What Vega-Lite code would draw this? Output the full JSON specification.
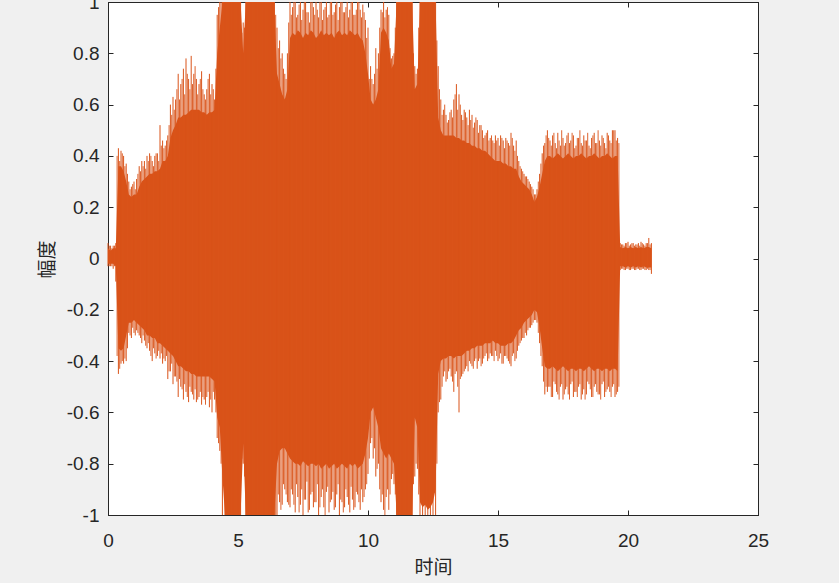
{
  "$schema": "https://vega.github.io/schema/vega-lite/v6.json",
  "width": 650,
  "height": 513,
  "autosize": {"type": "none"},
  "padding": {"left": 108, "top": 2, "right": 81, "bottom": 68},
  "background": "#f0f0f0",
  "config": {
    "view": {"fill": "white", "stroke": "#262626", "strokeWidth": 1},
    "axis": {
      "domainColor": "#262626",
      "tickColor": "#262626",
      "tickSize": -5,
      "grid": false,
      "labelFlush": false,
      "labelOverlap": false,
      "labelFont": "Liberation Sans",
      "labelFontSize": 19,
      "labelColor": "#262626",
      "titleFont": "Noto Sans CJK SC",
      "titleFontSize": 19,
      "titleFontWeight": "normal",
      "titleColor": "#262626"
    }
  },
  "datasets": {
    "wave": [
      {"t":0.0,"top":0.04,"bot":-0.02,"peak":0.06,"trough":-0.03},
      {"t":0.1,"top":0.03,"bot":-0.02,"peak":0.05,"trough":-0.03},
      {"t":0.2,"top":0.04,"bot":-0.02,"peak":0.05,"trough":-0.04},
      {"t":0.3,"top":0.04,"bot":-0.03,"peak":0.06,"trough":-0.09},
      {"t":0.4,"top":0.36,"bot":-0.35,"peak":0.43,"trough":-0.45},
      {"t":0.5,"top":0.36,"bot":-0.36,"peak":0.42,"trough":-0.41},
      {"t":0.6,"top":0.34,"bot":-0.35,"peak":0.40,"trough":-0.41},
      {"t":0.7,"top":0.30,"bot":-0.30,"peak":0.37,"trough":-0.40},
      {"t":0.8,"top":0.25,"bot":-0.25,"peak":0.30,"trough":-0.29},
      {"t":0.9,"top":0.24,"bot":-0.25,"peak":0.28,"trough":-0.31},
      {"t":1.0,"top":0.25,"bot":-0.24,"peak":0.30,"trough":-0.29},
      {"t":1.1,"top":0.25,"bot":-0.25,"peak":0.31,"trough":-0.28},
      {"t":1.2,"top":0.28,"bot":-0.26,"peak":0.36,"trough":-0.30},
      {"t":1.3,"top":0.30,"bot":-0.27,"peak":0.38,"trough":-0.33},
      {"t":1.4,"top":0.31,"bot":-0.28,"peak":0.38,"trough":-0.32},
      {"t":1.5,"top":0.32,"bot":-0.30,"peak":0.40,"trough":-0.35},
      {"t":1.6,"top":0.33,"bot":-0.30,"peak":0.41,"trough":-0.36},
      {"t":1.7,"top":0.33,"bot":-0.31,"peak":0.38,"trough":-0.40},
      {"t":1.8,"top":0.34,"bot":-0.31,"peak":0.40,"trough":-0.37},
      {"t":1.9,"top":0.34,"bot":-0.33,"peak":0.41,"trough":-0.38},
      {"t":2.0,"top":0.35,"bot":-0.33,"peak":0.52,"trough":-0.39},
      {"t":2.1,"top":0.38,"bot":-0.34,"peak":0.46,"trough":-0.41},
      {"t":2.2,"top":0.38,"bot":-0.35,"peak":0.44,"trough":-0.40},
      {"t":2.3,"top":0.40,"bot":-0.36,"peak":0.48,"trough":-0.47},
      {"t":2.4,"top":0.47,"bot":-0.37,"peak":0.60,"trough":-0.44},
      {"t":2.5,"top":0.50,"bot":-0.38,"peak":0.63,"trough":-0.49},
      {"t":2.6,"top":0.52,"bot":-0.40,"peak":0.62,"trough":-0.46},
      {"t":2.7,"top":0.55,"bot":-0.42,"peak":0.72,"trough":-0.54},
      {"t":2.8,"top":0.55,"bot":-0.42,"peak":0.68,"trough":-0.50},
      {"t":2.9,"top":0.56,"bot":-0.43,"peak":0.74,"trough":-0.55},
      {"t":3.0,"top":0.56,"bot":-0.44,"peak":0.78,"trough":-0.52},
      {"t":3.1,"top":0.57,"bot":-0.44,"peak":0.70,"trough":-0.56},
      {"t":3.2,"top":0.58,"bot":-0.45,"peak":0.79,"trough":-0.52},
      {"t":3.3,"top":0.58,"bot":-0.45,"peak":0.72,"trough":-0.55},
      {"t":3.4,"top":0.58,"bot":-0.46,"peak":0.70,"trough":-0.56},
      {"t":3.5,"top":0.58,"bot":-0.46,"peak":0.68,"trough":-0.54},
      {"t":3.6,"top":0.57,"bot":-0.46,"peak":0.73,"trough":-0.57},
      {"t":3.7,"top":0.57,"bot":-0.46,"peak":0.64,"trough":-0.55},
      {"t":3.8,"top":0.56,"bot":-0.46,"peak":0.66,"trough":-0.54},
      {"t":3.9,"top":0.57,"bot":-0.46,"peak":0.72,"trough":-0.58},
      {"t":4.0,"top":0.57,"bot":-0.47,"peak":0.68,"trough":-0.60},
      {"t":4.1,"top":0.58,"bot":-0.48,"peak":0.62,"trough":-0.55},
      {"t":4.2,"top":0.80,"bot":-0.62,"peak":0.95,"trough":-0.70},
      {"t":4.3,"top":0.90,"bot":-0.66,"peak":1,"trough":-0.75},
      {"t":4.4,"top":1,"bot":-0.85,"peak":1,"trough":-1},
      {"t":4.5,"top":1,"bot":-1,"peak":1,"trough":-1},
      {"t":4.6,"top":1,"bot":-1,"peak":1,"trough":-1},
      {"t":4.7,"top":1,"bot":-1,"peak":1,"trough":-1},
      {"t":4.8,"top":1,"bot":-1,"peak":1,"trough":-1},
      {"t":4.9,"top":1,"bot":-1,"peak":1,"trough":-1},
      {"t":5.0,"top":1,"bot":-1,"peak":1,"trough":-1},
      {"t":5.1,"top":1,"bot":-1,"peak":1,"trough":-1},
      {"t":5.2,"top":0.80,"bot":-0.72,"peak":0.92,"trough":-0.80},
      {"t":5.3,"top":1,"bot":-1,"peak":1,"trough":-1},
      {"t":5.4,"top":1,"bot":-1,"peak":1,"trough":-1},
      {"t":5.5,"top":1,"bot":-1,"peak":1,"trough":-1},
      {"t":5.6,"top":1,"bot":-1,"peak":1,"trough":-1},
      {"t":5.7,"top":1,"bot":-1,"peak":1,"trough":-1},
      {"t":5.8,"top":1,"bot":-1,"peak":1,"trough":-1},
      {"t":5.9,"top":1,"bot":-1,"peak":1,"trough":-1},
      {"t":6.0,"top":1,"bot":-1,"peak":1,"trough":-1},
      {"t":6.1,"top":1,"bot":-1,"peak":1,"trough":-1},
      {"t":6.2,"top":1,"bot":-1,"peak":1,"trough":-1},
      {"t":6.3,"top":1,"bot":-1,"peak":1,"trough":-1},
      {"t":6.4,"top":1,"bot":-1,"peak":1,"trough":-1},
      {"t":6.5,"top":0.72,"bot":-0.80,"peak":0.90,"trough":-1},
      {"t":6.6,"top":0.68,"bot":-0.75,"peak":0.85,"trough":-0.95},
      {"t":6.7,"top":0.64,"bot":-0.74,"peak":0.80,"trough":-0.96},
      {"t":6.8,"top":0.62,"bot":-0.74,"peak":0.72,"trough":-0.90},
      {"t":6.9,"top":0.66,"bot":-0.76,"peak":0.80,"trough":-0.95},
      {"t":7.0,"top":0.86,"bot":-0.78,"peak":1,"trough":-0.97},
      {"t":7.1,"top":0.88,"bot":-0.79,"peak":0.98,"trough":-0.92},
      {"t":7.2,"top":0.87,"bot":-0.80,"peak":1,"trough":-0.99},
      {"t":7.3,"top":0.89,"bot":-0.80,"peak":0.95,"trough":-0.93},
      {"t":7.4,"top":0.88,"bot":-0.81,"peak":1,"trough":-0.96},
      {"t":7.5,"top":0.86,"bot":-0.79,"peak":0.97,"trough":-1},
      {"t":7.6,"top":0.88,"bot":-0.80,"peak":1,"trough":-0.94},
      {"t":7.7,"top":0.87,"bot":-0.81,"peak":0.96,"trough":-0.99},
      {"t":7.8,"top":0.89,"bot":-0.80,"peak":1,"trough":-0.92},
      {"t":7.9,"top":0.88,"bot":-0.80,"peak":0.98,"trough":-0.97},
      {"t":8.0,"top":0.86,"bot":-0.81,"peak":1,"trough":-0.95},
      {"t":8.1,"top":0.87,"bot":-0.80,"peak":0.94,"trough":-1},
      {"t":8.2,"top":0.89,"bot":-0.82,"peak":1,"trough":-0.93},
      {"t":8.3,"top":0.87,"bot":-0.81,"peak":0.97,"trough":-0.97},
      {"t":8.4,"top":0.88,"bot":-0.80,"peak":1,"trough":-0.91},
      {"t":8.5,"top":0.87,"bot":-0.82,"peak":0.95,"trough":-0.99},
      {"t":8.6,"top":0.88,"bot":-0.81,"peak":1,"trough":-0.94},
      {"t":8.7,"top":0.86,"bot":-0.80,"peak":0.96,"trough":-0.98},
      {"t":8.8,"top":0.88,"bot":-0.82,"peak":1,"trough":-0.92},
      {"t":8.9,"top":0.89,"bot":-0.81,"peak":0.98,"trough":-1},
      {"t":9.0,"top":0.87,"bot":-0.80,"peak":1,"trough":-0.95},
      {"t":9.1,"top":0.88,"bot":-0.81,"peak":0.96,"trough":-0.97},
      {"t":9.2,"top":0.87,"bot":-0.82,"peak":1,"trough":-0.93},
      {"t":9.3,"top":0.89,"bot":-0.80,"peak":0.97,"trough":-0.99},
      {"t":9.4,"top":0.88,"bot":-0.81,"peak":1,"trough":-0.94},
      {"t":9.5,"top":0.87,"bot":-0.80,"peak":0.95,"trough":-0.97},
      {"t":9.6,"top":0.88,"bot":-0.82,"peak":1,"trough":-0.92},
      {"t":9.7,"top":0.86,"bot":-0.81,"peak":0.97,"trough":-0.98},
      {"t":9.8,"top":0.85,"bot":-0.80,"peak":0.99,"trough":-0.95},
      {"t":9.9,"top":0.80,"bot":-0.76,"peak":0.93,"trough":-0.90},
      {"t":10.0,"top":0.72,"bot":-0.70,"peak":0.90,"trough":-0.84},
      {"t":10.1,"top":0.62,"bot":-0.60,"peak":0.75,"trough":-0.72},
      {"t":10.2,"top":0.60,"bot":-0.58,"peak":0.68,"trough":-0.78},
      {"t":10.3,"top":0.62,"bot":-0.62,"peak":0.82,"trough":-0.85},
      {"t":10.4,"top":0.66,"bot":-0.66,"peak":0.80,"trough":-0.80},
      {"t":10.5,"top":0.88,"bot":-0.74,"peak":0.97,"trough":-0.95},
      {"t":10.6,"top":0.90,"bot":-0.76,"peak":1,"trough":-0.98},
      {"t":10.7,"top":0.88,"bot":-0.78,"peak":0.97,"trough":-0.93},
      {"t":10.8,"top":0.85,"bot":-0.76,"peak":0.95,"trough":-0.98},
      {"t":10.9,"top":0.74,"bot":-0.78,"peak":0.78,"trough":-0.86},
      {"t":11.0,"top":0.76,"bot":-0.80,"peak":0.80,"trough":-0.88},
      {"t":11.1,"top":1,"bot":-1,"peak":1,"trough":-1},
      {"t":11.2,"top":1,"bot":-1,"peak":1,"trough":-1},
      {"t":11.3,"top":1,"bot":-1,"peak":1,"trough":-1},
      {"t":11.4,"top":1,"bot":-1,"peak":1,"trough":-1},
      {"t":11.5,"top":1,"bot":-1,"peak":1,"trough":-1},
      {"t":11.6,"top":1,"bot":-1,"peak":1,"trough":-1},
      {"t":11.7,"top":1,"bot":-1,"peak":1,"trough":-1},
      {"t":11.8,"top":0.66,"bot":-0.62,"peak":0.75,"trough":-0.85},
      {"t":11.9,"top":0.68,"bot":-0.66,"peak":0.74,"trough":-0.82},
      {"t":12.0,"top":1,"bot":-0.95,"peak":1,"trough":-1},
      {"t":12.1,"top":1,"bot":-0.97,"peak":1,"trough":-1},
      {"t":12.2,"top":1,"bot":-0.96,"peak":1,"trough":-1},
      {"t":12.3,"top":1,"bot":-0.98,"peak":1,"trough":-1},
      {"t":12.4,"top":1,"bot":-0.97,"peak":1,"trough":-1},
      {"t":12.5,"top":1,"bot":-0.95,"peak":1,"trough":-1},
      {"t":12.6,"top":1,"bot":-0.90,"peak":1,"trough":-1},
      {"t":12.7,"top":0.55,"bot":-0.45,"peak":0.75,"trough":-0.60},
      {"t":12.8,"top":0.50,"bot":-0.40,"peak":0.62,"trough":-0.55},
      {"t":12.9,"top":0.48,"bot":-0.39,"peak":0.58,"trough":-0.46},
      {"t":13.0,"top":0.48,"bot":-0.39,"peak":0.56,"trough":-0.48},
      {"t":13.1,"top":0.48,"bot":-0.38,"peak":0.54,"trough":-0.44},
      {"t":13.2,"top":0.48,"bot":-0.38,"peak":0.58,"trough":-0.46},
      {"t":13.3,"top":0.48,"bot":-0.39,"peak":0.62,"trough":-0.52},
      {"t":13.4,"top":0.47,"bot":-0.38,"peak":0.68,"trough":-0.44},
      {"t":13.5,"top":0.47,"bot":-0.38,"peak":0.64,"trough":-0.60},
      {"t":13.6,"top":0.46,"bot":-0.38,"peak":0.56,"trough":-0.46},
      {"t":13.7,"top":0.46,"bot":-0.37,"peak":0.58,"trough":-0.44},
      {"t":13.8,"top":0.45,"bot":-0.36,"peak":0.55,"trough":-0.42},
      {"t":13.9,"top":0.45,"bot":-0.36,"peak":0.58,"trough":-0.40},
      {"t":14.0,"top":0.44,"bot":-0.35,"peak":0.56,"trough":-0.42},
      {"t":14.1,"top":0.44,"bot":-0.35,"peak":0.53,"trough":-0.40},
      {"t":14.2,"top":0.43,"bot":-0.34,"peak":0.54,"trough":-0.43},
      {"t":14.3,"top":0.43,"bot":-0.34,"peak":0.52,"trough":-0.39},
      {"t":14.4,"top":0.42,"bot":-0.34,"peak":0.50,"trough":-0.41},
      {"t":14.5,"top":0.42,"bot":-0.33,"peak":0.48,"trough":-0.38},
      {"t":14.6,"top":0.41,"bot":-0.33,"peak":0.50,"trough":-0.40},
      {"t":14.7,"top":0.40,"bot":-0.33,"peak":0.47,"trough":-0.37},
      {"t":14.8,"top":0.39,"bot":-0.32,"peak":0.46,"trough":-0.38},
      {"t":14.9,"top":0.38,"bot":-0.33,"peak":0.48,"trough":-0.36},
      {"t":15.0,"top":0.38,"bot":-0.33,"peak":0.47,"trough":-0.40},
      {"t":15.1,"top":0.38,"bot":-0.34,"peak":0.48,"trough":-0.37},
      {"t":15.2,"top":0.37,"bot":-0.34,"peak":0.46,"trough":-0.41},
      {"t":15.3,"top":0.37,"bot":-0.34,"peak":0.47,"trough":-0.38},
      {"t":15.4,"top":0.36,"bot":-0.33,"peak":0.45,"trough":-0.40},
      {"t":15.5,"top":0.36,"bot":-0.33,"peak":0.49,"trough":-0.42},
      {"t":15.6,"top":0.35,"bot":-0.32,"peak":0.44,"trough":-0.37},
      {"t":15.7,"top":0.35,"bot":-0.30,"peak":0.46,"trough":-0.39},
      {"t":15.8,"top":0.32,"bot":-0.28,"peak":0.38,"trough":-0.34},
      {"t":15.9,"top":0.30,"bot":-0.27,"peak":0.35,"trough":-0.32},
      {"t":16.0,"top":0.29,"bot":-0.25,"peak":0.33,"trough":-0.31},
      {"t":16.1,"top":0.28,"bot":-0.24,"peak":0.32,"trough":-0.30},
      {"t":16.2,"top":0.27,"bot":-0.23,"peak":0.30,"trough":-0.27},
      {"t":16.3,"top":0.25,"bot":-0.22,"peak":0.28,"trough":-0.26},
      {"t":16.4,"top":0.22,"bot":-0.20,"peak":0.25,"trough":-0.24},
      {"t":16.5,"top":0.24,"bot":-0.21,"peak":0.27,"trough":-0.25},
      {"t":16.6,"top":0.28,"bot":-0.27,"peak":0.33,"trough":-0.33},
      {"t":16.7,"top":0.33,"bot":-0.35,"peak":0.41,"trough":-0.42},
      {"t":16.8,"top":0.38,"bot":-0.42,"peak":0.45,"trough":-0.53},
      {"t":16.9,"top":0.40,"bot":-0.43,"peak":0.50,"trough":-0.52},
      {"t":17.0,"top":0.40,"bot":-0.43,"peak":0.46,"trough":-0.50},
      {"t":17.1,"top":0.39,"bot":-0.42,"peak":0.48,"trough":-0.54},
      {"t":17.2,"top":0.40,"bot":-0.43,"peak":0.45,"trough":-0.49},
      {"t":17.3,"top":0.41,"bot":-0.44,"peak":0.49,"trough":-0.53},
      {"t":17.4,"top":0.40,"bot":-0.43,"peak":0.44,"trough":-0.50},
      {"t":17.5,"top":0.39,"bot":-0.42,"peak":0.47,"trough":-0.55},
      {"t":17.6,"top":0.40,"bot":-0.43,"peak":0.45,"trough":-0.51},
      {"t":17.7,"top":0.41,"bot":-0.44,"peak":0.49,"trough":-0.53},
      {"t":17.8,"top":0.40,"bot":-0.43,"peak":0.46,"trough":-0.49},
      {"t":17.9,"top":0.39,"bot":-0.43,"peak":0.48,"trough":-0.54},
      {"t":18.0,"top":0.40,"bot":-0.44,"peak":0.44,"trough":-0.52},
      {"t":18.1,"top":0.40,"bot":-0.43,"peak":0.47,"trough":-0.50},
      {"t":18.2,"top":0.41,"bot":-0.43,"peak":0.45,"trough":-0.55},
      {"t":18.3,"top":0.40,"bot":-0.44,"peak":0.48,"trough":-0.51},
      {"t":18.4,"top":0.39,"bot":-0.43,"peak":0.46,"trough":-0.53},
      {"t":18.5,"top":0.40,"bot":-0.42,"peak":0.44,"trough":-0.49},
      {"t":18.6,"top":0.40,"bot":-0.43,"peak":0.47,"trough":-0.54},
      {"t":18.7,"top":0.41,"bot":-0.44,"peak":0.49,"trough":-0.50},
      {"t":18.8,"top":0.40,"bot":-0.43,"peak":0.45,"trough":-0.52},
      {"t":18.9,"top":0.39,"bot":-0.43,"peak":0.46,"trough":-0.53},
      {"t":19.0,"top":0.40,"bot":-0.44,"peak":0.48,"trough":-0.49},
      {"t":19.1,"top":0.40,"bot":-0.43,"peak":0.45,"trough":-0.54},
      {"t":19.2,"top":0.41,"bot":-0.43,"peak":0.49,"trough":-0.51},
      {"t":19.3,"top":0.40,"bot":-0.44,"peak":0.46,"trough":-0.52},
      {"t":19.4,"top":0.39,"bot":-0.43,"peak":0.50,"trough":-0.50},
      {"t":19.5,"top":0.40,"bot":-0.43,"peak":0.50,"trough":-0.54},
      {"t":19.6,"top":0.40,"bot":-0.44,"peak":0.47,"trough":-0.52},
      {"t":19.7,"top":0.045,"bot":-0.03,"peak":0.06,"trough":-0.045},
      {"t":19.8,"top":0.04,"bot":-0.03,"peak":0.055,"trough":-0.04},
      {"t":19.9,"top":0.045,"bot":-0.035,"peak":0.06,"trough":-0.045},
      {"t":20.0,"top":0.04,"bot":-0.03,"peak":0.065,"trough":-0.04},
      {"t":20.1,"top":0.045,"bot":-0.035,"peak":0.055,"trough":-0.045},
      {"t":20.2,"top":0.04,"bot":-0.03,"peak":0.06,"trough":-0.04},
      {"t":20.3,"top":0.045,"bot":-0.035,"peak":0.055,"trough":-0.045},
      {"t":20.4,"top":0.04,"bot":-0.03,"peak":0.06,"trough":-0.04},
      {"t":20.5,"top":0.045,"bot":-0.035,"peak":0.065,"trough":-0.045},
      {"t":20.6,"top":0.04,"bot":-0.03,"peak":0.055,"trough":-0.04},
      {"t":20.7,"top":0.045,"bot":-0.035,"peak":0.06,"trough":-0.045},
      {"t":20.8,"top":0.045,"bot":-0.035,"peak":0.08,"trough":-0.045},
      {"t":20.9,"top":0.04,"bot":-0.035,"peak":0.06,"trough":-0.06}
    ],
    "spikes": [
      {"t":0.05,"peak":0.05,"trough":-0.03},{"t":0.15,"peak":0.04,"trough":-0.03},{"t":0.25,"peak":0.05,"trough":-0.03},
      {"t":0.35,"peak":0.40,"trough":-0.38},{"t":0.45,"peak":0.38,"trough":-0.43},{"t":0.55,"peak":0.41,"trough":-0.40},
      {"t":0.65,"peak":0.36,"trough":-0.39},{"t":0.75,"peak":0.33,"trough":-0.35},{"t":0.85,"peak":0.27,"trough":-0.30},
      {"t":0.95,"peak":0.29,"trough":-0.27},{"t":1.05,"peak":0.27,"trough":-0.30},{"t":1.15,"peak":0.33,"trough":-0.29},
      {"t":1.25,"peak":0.34,"trough":-0.31},{"t":1.35,"peak":0.36,"trough":-0.30},{"t":1.45,"peak":0.35,"trough":-0.34},
      {"t":1.55,"peak":0.38,"trough":-0.33},{"t":1.65,"peak":0.40,"trough":-0.38},{"t":1.75,"peak":0.36,"trough":-0.35},
      {"t":1.85,"peak":0.41,"trough":-0.39},{"t":1.95,"peak":0.38,"trough":-0.36},{"t":2.05,"peak":0.44,"trough":-0.37},
      {"t":2.15,"peak":0.43,"trough":-0.39},{"t":2.25,"peak":0.46,"trough":-0.38},{"t":2.35,"peak":0.52,"trough":-0.44},
      {"t":2.45,"peak":0.56,"trough":-0.41},{"t":2.55,"peak":0.58,"trough":-0.46},{"t":2.65,"peak":0.66,"trough":-0.48},
      {"t":2.75,"peak":0.62,"trough":-0.47},{"t":2.85,"peak":0.70,"trough":-0.51},{"t":2.95,"peak":0.64,"trough":-0.49},
      {"t":3.05,"peak":0.72,"trough":-0.54},{"t":3.15,"peak":0.66,"trough":-0.50},{"t":3.25,"peak":0.68,"trough":-0.53},
      {"t":3.35,"peak":0.75,"trough":-0.51},{"t":3.45,"peak":0.64,"trough":-0.55},{"t":3.55,"peak":0.70,"trough":-0.52},
      {"t":3.65,"peak":0.66,"trough":-0.54},{"t":3.75,"peak":0.62,"trough":-0.57},{"t":3.85,"peak":0.70,"trough":-0.52},
      {"t":3.95,"peak":0.64,"trough":-0.55},{"t":4.05,"peak":0.66,"trough":-0.52},{"t":4.15,"peak":0.74,"trough":-0.60},
      {"t":4.25,"peak":0.98,"trough":-0.72},{"t":4.35,"peak":1,"trough":-0.80},
      {"t":5.15,"peak":0.88,"trough":-0.78},{"t":5.25,"peak":0.90,"trough":-0.85},
      {"t":6.45,"peak":0.95,"trough":-1},{"t":6.55,"peak":0.82,"trough":-0.92},{"t":6.65,"peak":0.78,"trough":-0.98},
      {"t":6.75,"peak":0.74,"trough":-0.88},{"t":6.85,"peak":0.70,"trough":-0.92},{"t":6.95,"peak":0.92,"trough":-0.96},
      {"t":7.05,"peak":0.95,"trough":-0.90},{"t":7.15,"peak":1,"trough":-0.96},{"t":7.25,"peak":0.94,"trough":-0.88},
      {"t":7.35,"peak":0.99,"trough":-0.99},{"t":7.45,"peak":0.93,"trough":-0.90},{"t":7.55,"peak":1,"trough":-0.94},
      {"t":7.65,"peak":0.96,"trough":-0.87},{"t":7.75,"peak":0.92,"trough":-0.98},{"t":7.85,"peak":1,"trough":-0.91},
      {"t":7.95,"peak":0.95,"trough":-0.95},{"t":8.05,"peak":0.97,"trough":-0.88},{"t":8.15,"peak":1,"trough":-0.97},
      {"t":8.25,"peak":0.93,"trough":-0.90},{"t":8.35,"peak":0.98,"trough":-1},{"t":8.45,"peak":0.94,"trough":-0.89},
      {"t":8.55,"peak":1,"trough":-0.95},{"t":8.65,"peak":0.95,"trough":-0.91},{"t":8.75,"peak":0.99,"trough":-0.97},
      {"t":8.85,"peak":0.93,"trough":-0.88},{"t":8.95,"peak":1,"trough":-0.94},{"t":9.05,"peak":0.96,"trough":-0.99},
      {"t":9.15,"peak":0.98,"trough":-0.90},{"t":9.25,"peak":0.94,"trough":-0.96},{"t":9.35,"peak":1,"trough":-0.89},
      {"t":9.45,"peak":0.95,"trough":-0.98},{"t":9.55,"peak":0.97,"trough":-0.91},{"t":9.65,"peak":1,"trough":-0.95},
      {"t":9.75,"peak":0.94,"trough":-0.90},{"t":9.85,"peak":0.96,"trough":-0.93},{"t":9.95,"peak":0.86,"trough":-0.88},
      {"t":10.05,"peak":0.70,"trough":-0.78},{"t":10.15,"peak":0.70,"trough":-0.70},{"t":10.25,"peak":0.72,"trough":-0.74},
      {"t":10.35,"peak":0.74,"trough":-0.82},{"t":10.45,"peak":0.90,"trough":-0.90},{"t":10.55,"peak":0.96,"trough":-0.92},
      {"t":10.65,"peak":0.94,"trough":-1},{"t":10.75,"peak":0.98,"trough":-0.90},{"t":10.85,"peak":0.82,"trough":-0.92},
      {"t":10.95,"peak":0.79,"trough":-0.84},{"t":11.05,"peak":0.90,"trough":-0.92},
      {"t":11.75,"peak":0.80,"trough":-0.88},{"t":11.85,"peak":0.72,"trough":-0.80},{"t":11.95,"peak":0.90,"trough":-0.92},
      {"t":12.65,"peak":0.85,"trough":-0.80},{"t":12.75,"peak":0.66,"trough":-0.56},{"t":12.85,"peak":0.56,"trough":-0.50},
      {"t":12.95,"peak":0.60,"trough":-0.44},{"t":13.05,"peak":0.53,"trough":-0.47},{"t":13.15,"peak":0.57,"trough":-0.43},
      {"t":13.25,"peak":0.55,"trough":-0.48},{"t":13.35,"peak":0.64,"trough":-0.45},{"t":13.45,"peak":0.58,"trough":-0.50},
      {"t":13.55,"peak":0.60,"trough":-0.47},{"t":13.65,"peak":0.54,"trough":-0.45},{"t":13.75,"peak":0.57,"trough":-0.43},
      {"t":13.85,"peak":0.52,"trough":-0.44},{"t":13.95,"peak":0.54,"trough":-0.41},{"t":14.05,"peak":0.51,"trough":-0.43},
      {"t":14.15,"peak":0.55,"trough":-0.39},{"t":14.25,"peak":0.49,"trough":-0.40},{"t":14.35,"peak":0.52,"trough":-0.42},
      {"t":14.45,"peak":0.47,"trough":-0.39},{"t":14.55,"peak":0.49,"trough":-0.37},{"t":14.65,"peak":0.46,"trough":-0.39},
      {"t":14.75,"peak":0.48,"trough":-0.38},{"t":14.85,"peak":0.45,"trough":-0.40},{"t":14.95,"peak":0.46,"trough":-0.38},
      {"t":15.05,"peak":0.44,"trough":-0.39},{"t":15.15,"peak":0.47,"trough":-0.41},{"t":15.25,"peak":0.43,"trough":-0.38},
      {"t":15.35,"peak":0.46,"trough":-0.39},{"t":15.45,"peak":0.44,"trough":-0.41},{"t":15.55,"peak":0.47,"trough":-0.38},
      {"t":15.65,"peak":0.42,"trough":-0.40},{"t":15.75,"peak":0.40,"trough":-0.36},{"t":15.85,"peak":0.36,"trough":-0.33},
      {"t":15.95,"peak":0.34,"trough":-0.31},{"t":16.05,"peak":0.32,"trough":-0.29},{"t":16.15,"peak":0.31,"trough":-0.28},
      {"t":16.25,"peak":0.29,"trough":-0.27},{"t":16.35,"peak":0.27,"trough":-0.25},{"t":16.45,"peak":0.25,"trough":-0.24},
      {"t":16.55,"peak":0.30,"trough":-0.29},{"t":16.65,"peak":0.37,"trough":-0.38},{"t":16.75,"peak":0.44,"trough":-0.48},
      {"t":16.85,"peak":0.48,"trough":-0.50},{"t":16.95,"peak":0.47,"trough":-0.50},{"t":17.05,"peak":0.44,"trough":-0.54},
      {"t":17.15,"peak":0.49,"trough":-0.48},{"t":17.25,"peak":0.43,"trough":-0.52},{"t":17.35,"peak":0.46,"trough":-0.55},
      {"t":17.45,"peak":0.50,"trough":-0.49},{"t":17.55,"peak":0.44,"trough":-0.53},{"t":17.65,"peak":0.48,"trough":-0.50},
      {"t":17.75,"peak":0.45,"trough":-0.55},{"t":17.85,"peak":0.49,"trough":-0.48},{"t":17.95,"peak":0.43,"trough":-0.52},
      {"t":18.05,"peak":0.47,"trough":-0.54},{"t":18.15,"peak":0.50,"trough":-0.49},{"t":18.25,"peak":0.44,"trough":-0.53},
      {"t":18.35,"peak":0.46,"trough":-0.55},{"t":18.45,"peak":0.49,"trough":-0.48},{"t":18.55,"peak":0.43,"trough":-0.51},
      {"t":18.65,"peak":0.48,"trough":-0.54},{"t":18.75,"peak":0.45,"trough":-0.49},{"t":18.85,"peak":0.50,"trough":-0.53},
      {"t":18.95,"peak":0.44,"trough":-0.55},{"t":19.05,"peak":0.47,"trough":-0.48},{"t":19.15,"peak":0.43,"trough":-0.52},
      {"t":19.25,"peak":0.48,"trough":-0.50},{"t":19.35,"peak":0.45,"trough":-0.54},{"t":19.45,"peak":0.50,"trough":-0.49},
      {"t":19.55,"peak":0.46,"trough":-0.53},{"t":19.65,"peak":0.45,"trough":-0.50},
      {"t":19.75,"peak":0.055,"trough":-0.04},{"t":19.85,"peak":0.05,"trough":-0.045},{"t":19.95,"peak":0.06,"trough":-0.04},
      {"t":20.05,"peak":0.05,"trough":-0.045},{"t":20.15,"peak":0.06,"trough":-0.04},{"t":20.25,"peak":0.05,"trough":-0.045},
      {"t":20.35,"peak":0.055,"trough":-0.04},{"t":20.45,"peak":0.05,"trough":-0.045},{"t":20.55,"peak":0.06,"trough":-0.04},
      {"t":20.65,"peak":0.05,"trough":-0.045},{"t":20.75,"peak":0.06,"trough":-0.04},{"t":20.85,"peak":0.055,"trough":-0.045}
    ]
  },
  "resolve": {"axis": {"x": "independent", "y": "independent"}},
  "layer": [
    {
      "data": {"name": "wave"},
      "mark": {"type": "area", "color": "#D95319", "interpolate": "linear", "opacity": 1},
      "encoding": {
        "x": {
          "field": "t", "type": "quantitative",
          "scale": {"domain": [0, 25], "nice": false, "zero": false},
          "axis": {"orient": "bottom", "values": [0, 5, 10, 15, 20, 25], "title": "时间", "labelPadding": 21, "titleY": 52, "titleBaseline": "middle", "labelExpr": "replace(format(datum.value, '~g'), '−', '-')"}
        },
        "y": {
          "field": "top", "type": "quantitative",
          "scale": {"domain": [-1, 1], "nice": false, "zero": false},
          "axis": {"orient": "left", "values": [-1, -0.8, -0.6, -0.4, -0.2, 0, 0.2, 0.4, 0.6, 0.8, 1], "title": "幅度", "labelPadding": 14, "titleX": -61, "titleY": 257, "titleAngle": -90, "titleBaseline": "middle", "titleAlign": "center", "labelExpr": "replace(format(datum.value, '~g'), '−', '-')"}
        },
        "y2": {"field": "bot"}
      }
    },
    {
      "data": {"name": "wave"},
      "mark": {"type": "rule", "color": "#D95319", "strokeWidth": 1, "opacity": 1},
      "encoding": {
        "x": {
          "field": "t", "type": "quantitative",
          "scale": {"domain": [0, 25], "nice": false, "zero": false},
          "axis": {"orient": "top", "values": [0, 5, 10, 15, 20, 25], "labels": false, "title": null}
        },
        "y": {
          "field": "peak", "type": "quantitative",
          "scale": {"domain": [-1, 1], "nice": false, "zero": false},
          "axis": {"orient": "right", "values": [-1, -0.8, -0.6, -0.4, -0.2, 0, 0.2, 0.4, 0.6, 0.8, 1], "labels": false, "title": null}
        },
        "y2": {"field": "trough"}
      }
    },
    {
      "data": {"name": "spikes"},
      "mark": {"type": "rule", "color": "#D95319", "strokeWidth": 1, "opacity": 0.9},
      "encoding": {
        "x": {"field": "t", "type": "quantitative", "scale": {"domain": [0, 25], "nice": false, "zero": false}, "axis": null},
        "y": {"field": "peak", "type": "quantitative", "scale": {"domain": [-1, 1], "nice": false, "zero": false}, "axis": null},
        "y2": {"field": "trough"}
      }
    }
  ]
}
